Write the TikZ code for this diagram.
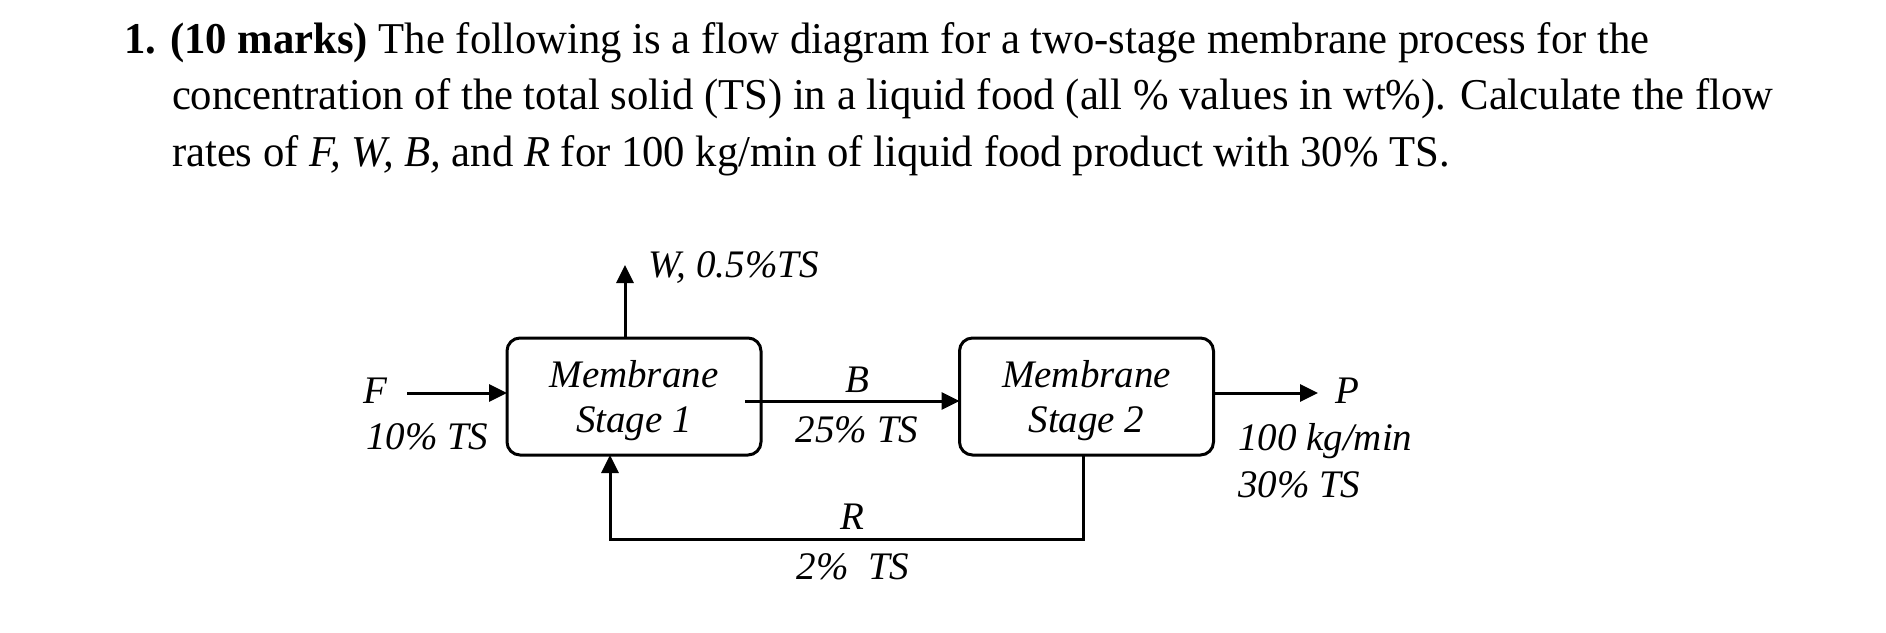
\documentclass[tikz,border=0pt]{standalone}
\usepackage{fontspec}
\setmainfont{Liberation Serif}
\newfontfamily\headfont{Liberation Serif}[FakeStretch=0.97]
\usetikzlibrary{arrows.meta}
\begin{document}
\begin{tikzpicture}[x=1pt,y=-1pt,
  every node/.style={inner sep=0pt,outer sep=0pt},
  head/.style={anchor=base west,font=\headfont\fontsize{44}{56}\selectfont},
  lab/.style={anchor=base west,font=\fontsize{39}{45}\selectfont\itshape},
  labc/.style={anchor=base,font=\fontsize{39}{45}\selectfont\itshape},
  stage/.style={draw,line width=3pt,rounded corners=13pt,minimum width=254pt,minimum height=117pt,
    align=center,font=\fontsize{39}{45}\selectfont\itshape},
  arr/.style={line width=3pt,-{Triangle[length=18pt,width=17pt]}},
  line/.style={line width=3pt}]
\useasboundingbox (0,0) rectangle (1886,632);
\fill[white] (0,0) rectangle (1886,632);
% header
\node[head] (h1) at (124,53) {\textbf{1. (10 marks)} The following is a flow diagram for a two-stage membrane process for the};
\node[head] (h2) at (172,109) {concentration of the total solid (TS) in a liquid food (all \% values in wt\%). Calculate the flow};
\node[head] (h3) at (172,166) {rates of \textit{F, W, B,} and \textit{R} for 100 kg/min of liquid food product with 30\% TS.};
% stages
\node[stage] (s1) at (634,396.5) {\rule{0pt}{36pt}Membrane\\Stage 1};
\node[stage] (s2) at (1086.5,396.5) {\rule{0pt}{36pt}Membrane\\Stage 2};
% labels
\node[lab] (lf) at (363,403) {F};
\node[lab] (lf2) at (366,449) {10\% TS};
\node[lab] (lw) at (648,277) {W, 0.5\%TS};
\node[labc] (lb) at (857,392) {B};
\node[labc] (lb2) at (857,442) {25\% TS};
\node[lab] (lp) at (1335,403) {P};
\node[lab] (lp2) at (1238,450) {100 kg/min};
\node[lab] (lp3) at (1238,497) {30\% TS};
\node[labc] (lr) at (852,529) {R};
\node[labc] (lr2) at (853,579) {2\%~~TS};
% connectors
\coordinate (fstart) at (407,393);
\coordinate (wtop) at (625,265);
\coordinate (bstart) at (745,401);
\coordinate (pend) at (1318,393);
\coordinate (rr) at (1083,539);
\coordinate (rl) at (610,539);
\draw[arr] (fstart) -- (s1.west |- fstart);
\draw[arr] (s1.north -| wtop) -- (wtop);
\draw[arr] (bstart) -- (s2.west |- bstart);
\draw[arr] (s2.east |- pend) -- (pend);
\draw[arr] (s2.south -| rr) -- (rr) -- (rl) -- (s1.south -| rl);
\end{tikzpicture}
\end{document}
